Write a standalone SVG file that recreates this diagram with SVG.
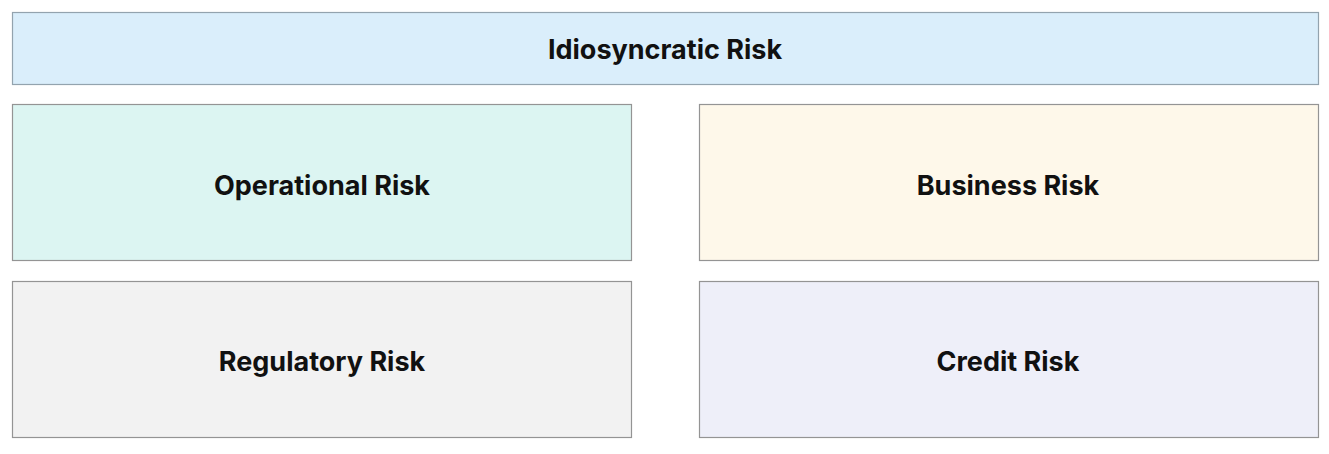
<svg xmlns="http://www.w3.org/2000/svg" width="1329" height="454" viewBox="0 0 1329 454">
<style>
rect{stroke-width:1.2}
.t{stroke:#93a3ae}
.b{stroke:#949494}
text{font-family:Inter,"Liberation Sans",sans-serif;font-weight:700;font-size:27px;fill:#111;text-anchor:middle;dominant-baseline:central}
</style>
<rect width="1329" height="454" fill="#ffffff"/>
<g id="idiosyncratic"><rect class="t" x="12.5" y="12.5" width="1306" height="72" fill="#daeefb"/><text x="665" y="49">Idiosyncratic Risk</text></g>
<g id="operational"><rect class="b" x="12.5" y="104.5" width="619" height="156" fill="#dcf5f2"/><text x="322" y="185">Operational Risk</text></g>
<g id="business"><rect class="b" x="699.5" y="104.5" width="619" height="156" fill="#fef8ea"/><text x="1008" y="185">Business Risk</text></g>
<g id="regulatory"><rect class="b" x="12.5" y="281.5" width="619" height="156" fill="#f2f2f2"/><text x="322" y="361">Regulatory Risk</text></g>
<g id="credit"><rect class="b" x="699.5" y="281.5" width="619" height="156" fill="#eeeff9"/><text x="1008" y="361">Credit Risk</text></g>
<g id="connectors"/>
</svg>
